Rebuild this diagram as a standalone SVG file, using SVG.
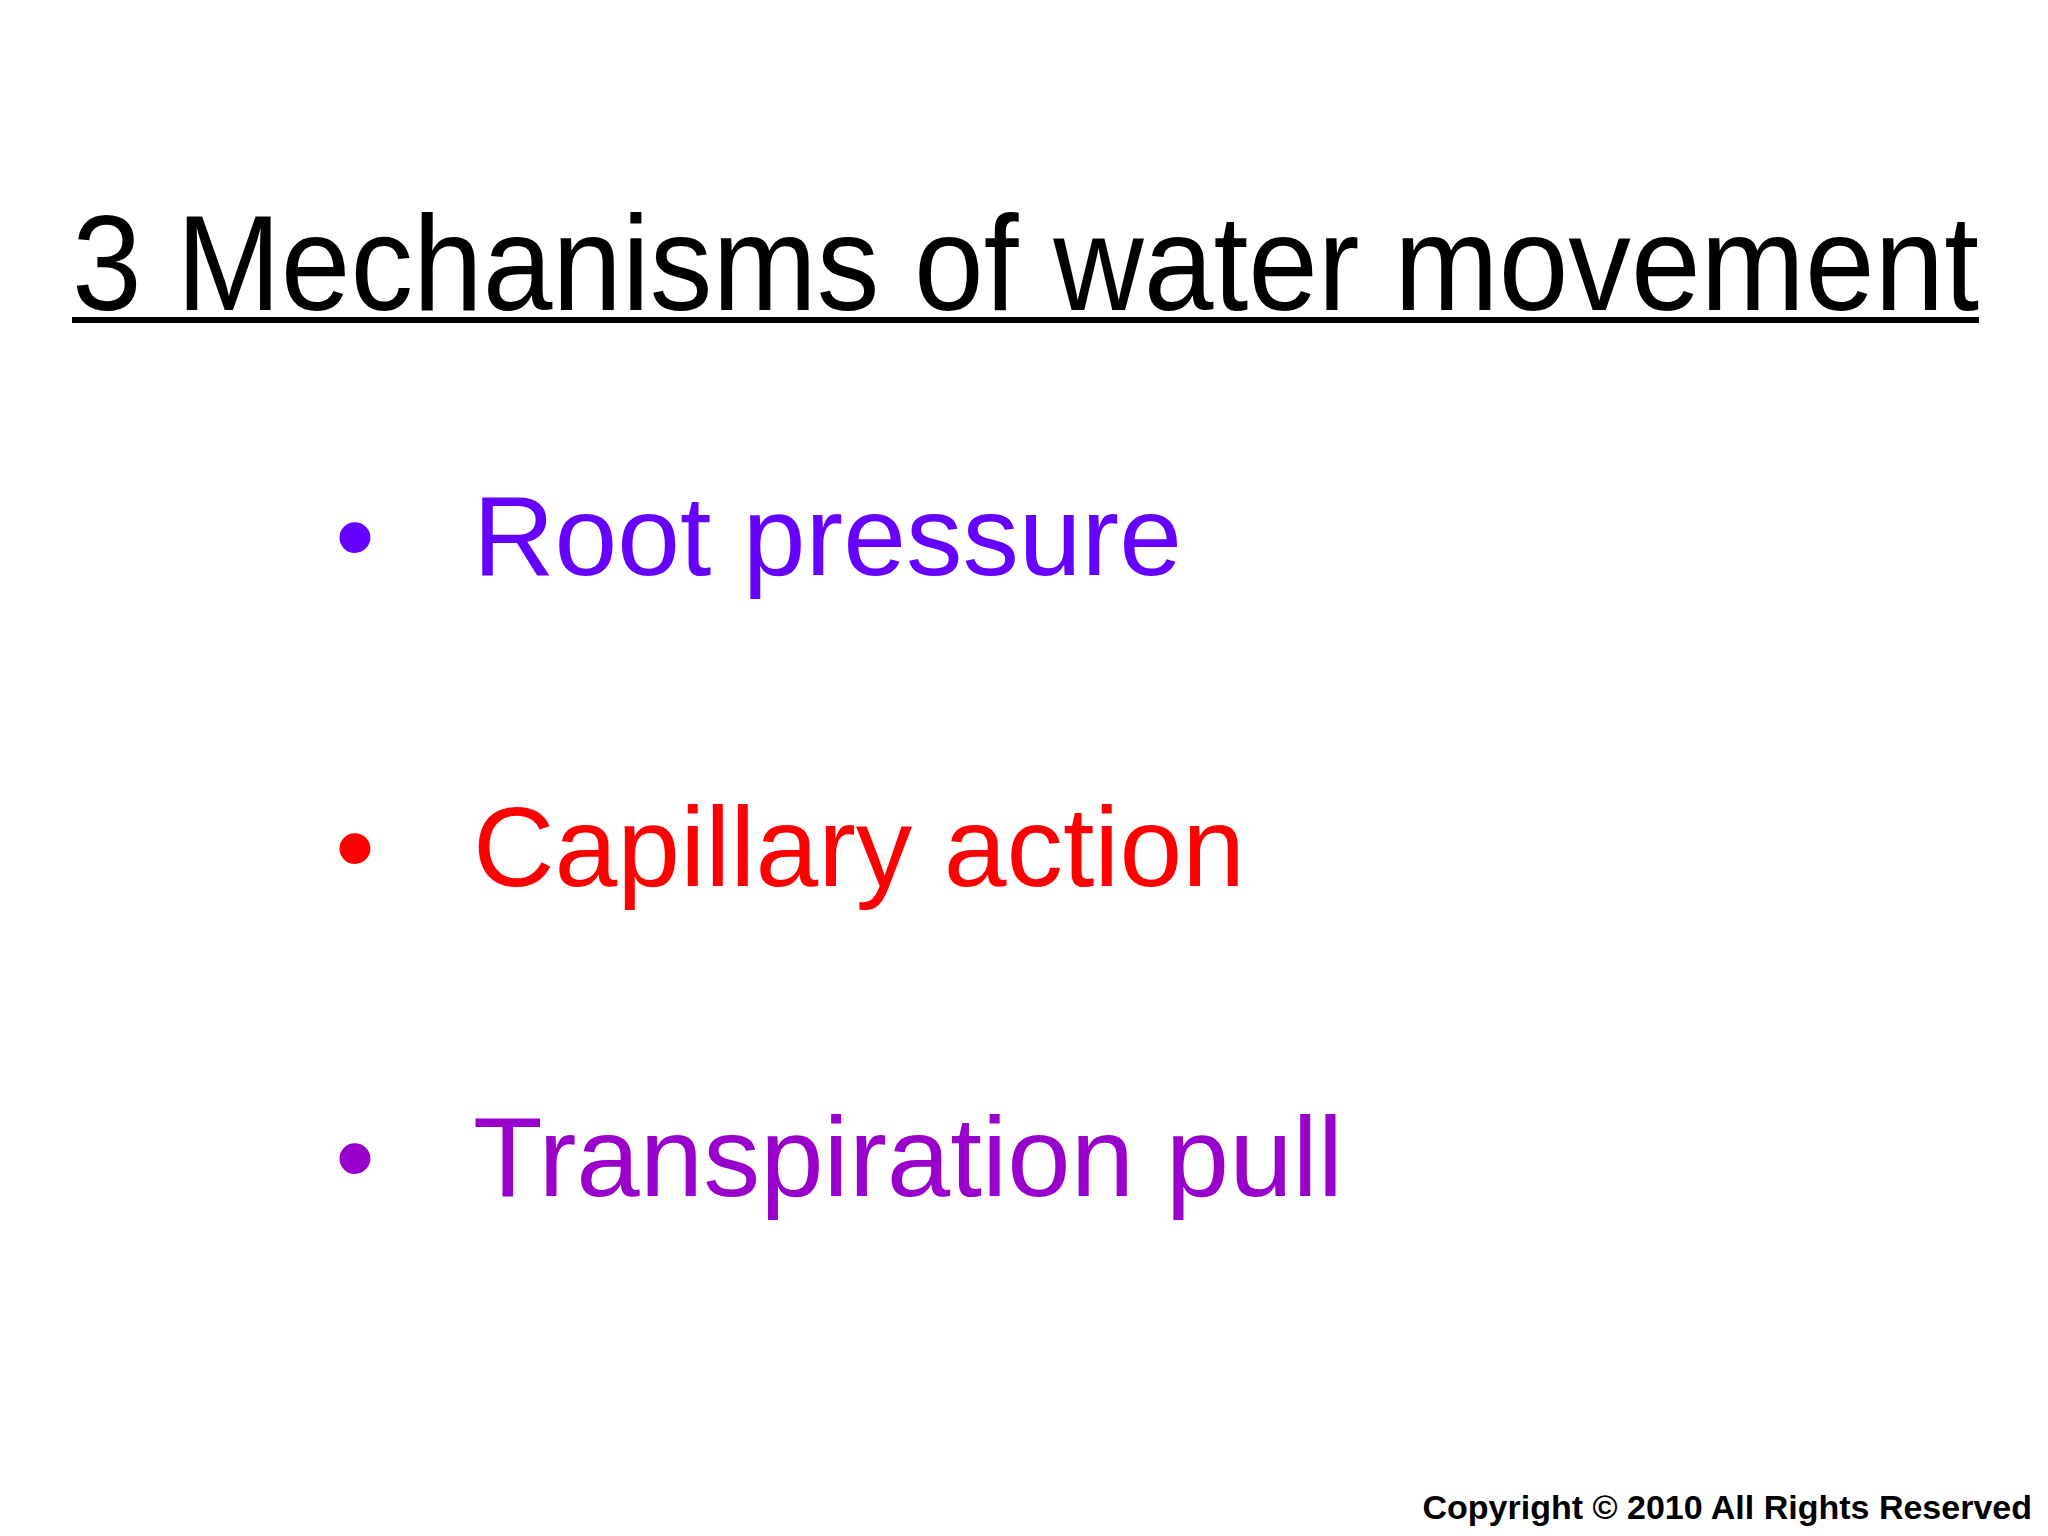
<svg xmlns="http://www.w3.org/2000/svg" width="2048" height="1536" viewBox="0 0 2048 1536">
<style>
text{font-family:"Liberation Sans",Arial,sans-serif}
.b{font-size:114px}
</style>
<rect width="2048" height="1536" fill="#fff"/>
<g id="title">
<text x="72" y="310" font-size="136" fill="#000" textLength="1907" lengthAdjust="spacingAndGlyphs">3 Mechanisms of water movement</text>
<rect x="72" y="317" width="1907" height="6" fill="#000"/>
</g>
<g id="item1" fill="#6600FF"><text class="b" x="335" y="575">•</text><text class="b" x="473" y="575" textLength="709" lengthAdjust="spacingAndGlyphs">Root pressure</text></g>
<g id="item2" fill="#FF0000"><text class="b" x="335" y="886">•</text><text class="b" x="473" y="886" textLength="772" lengthAdjust="spacingAndGlyphs">Capillary action</text></g>
<g id="item3" fill="#9900CC"><text class="b" x="335" y="1196">•</text><text class="b" x="473" y="1196">Transpiration pull</text></g>
<g id="copyright"><text x="2032" y="1519" font-size="34" font-weight="bold" text-anchor="end" fill="#000">Copyright © 2010 All Rights Reserved</text></g>
</svg>
